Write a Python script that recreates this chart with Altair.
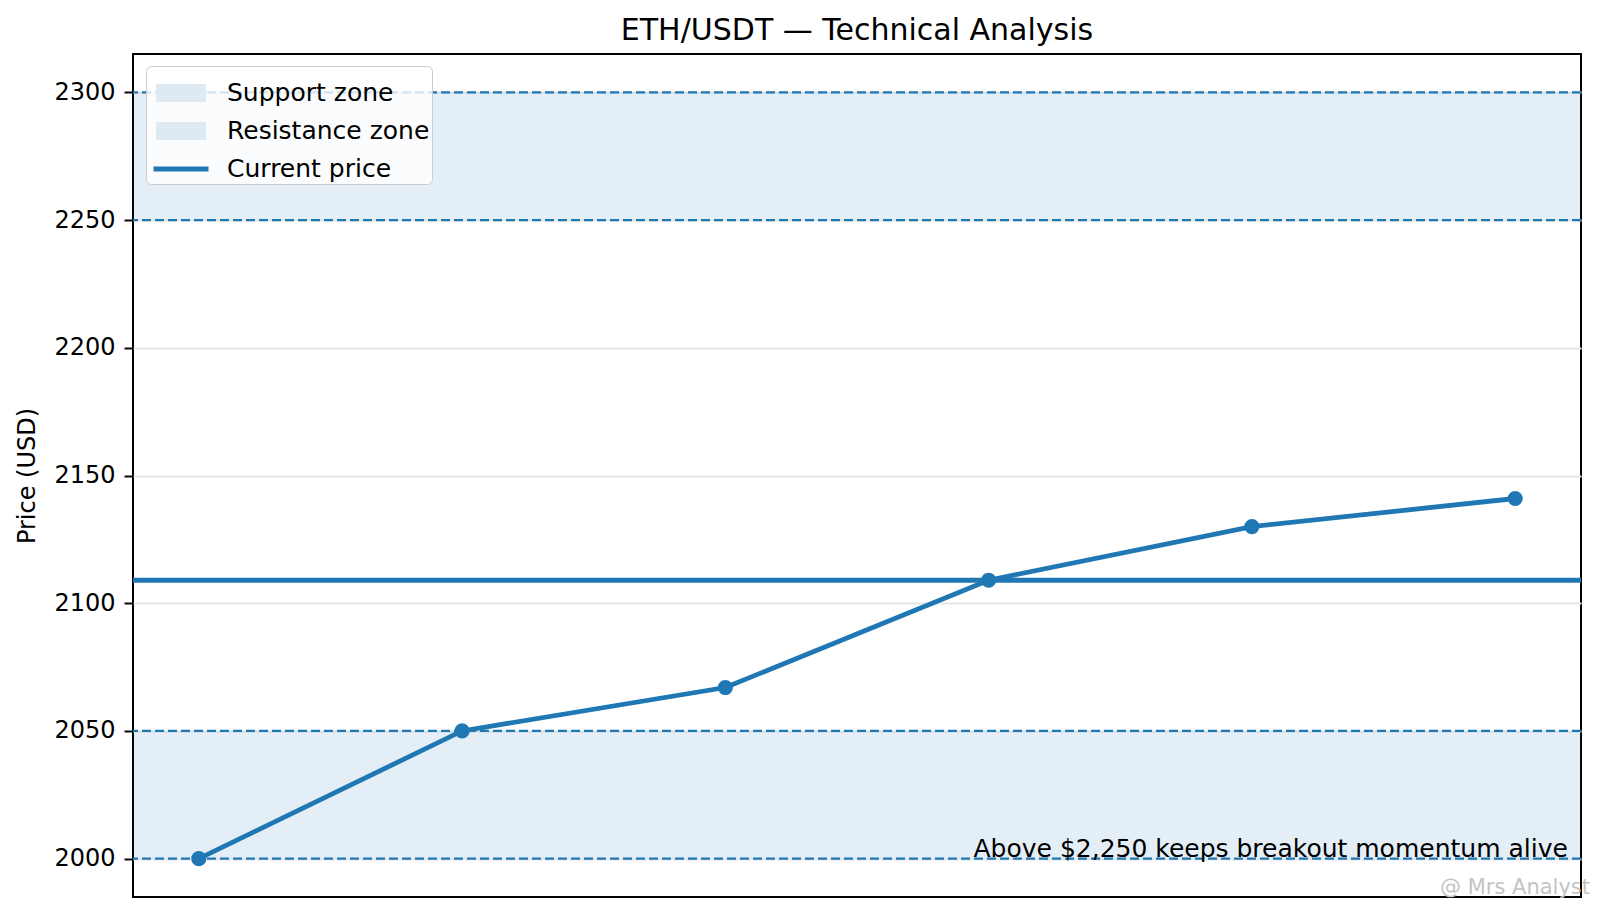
import altair as alt
import pandas as pd

# ---- data ----
x_idx = [0, 1, 2, 3, 4, 5]
prices = [2000, 2050, 2067, 2109, 2130, 2141]
current_price = [2109]
zone_names = ["Support zone", "Resistance zone"]
zone_low = [2000, 2250]
zone_high = [2050, 2300]
level_lines = [2000, 2050, 2250, 2300]
y_ticks = [2000, 2050, 2100, 2150, 2200, 2250, 2300]
legend_names = ["Support zone", "Resistance zone", "Current price"]
note_text = ["Above $2,250 keeps breakout momentum alive"]
watermark_text = ["@ Mrs Analyst"]
title_text = "ETH/USDT — Technical Analysis"
y_title = "Price (USD)"

BLUE = "#1f77b4"
SWATCH = "#dde9f3"
FONT = "DejaVu Sans"
W, H = 1448, 843

xs = alt.Scale(domain=[-0.25, 5.25], nice=False, zero=False)
ys = alt.Scale(domain=[1985, 2315], nice=False, zero=False)

price_df = pd.DataFrame({"i": x_idx, "price": prices})
zone_df = pd.DataFrame({"zone": zone_names, "lo": zone_low, "hi": zone_high})
lines_df = pd.DataFrame({"level": level_lines})
cur_df = pd.DataFrame({"price": current_price})
legend_df = pd.DataFrame({"name": legend_names})
note_df = pd.DataFrame({"t": note_text})
wm_df = pd.DataFrame({"t": watermark_text})

yaxis = alt.Axis(
    values=y_ticks, format="d", title=y_title, grid=True, gridColor="#e7e7e7", gridWidth=1.9,
    domain=False, ticks=True, tickColor="black", tickSize=9, tickWidth=1.9,
    labelPadding=9, labelFontSize=24, labelFont=FONT, labelColor="black",
    titleFontSize=24, titleFont=FONT, titleFontWeight="normal", titleColor="black",
    titlePadding=14,
)

zones = alt.Chart(zone_df).mark_rect(color=BLUE, opacity=0.12).encode(
    y=alt.Y("lo:Q", scale=ys, axis=yaxis),
    y2="hi:Q",
)

levels = alt.Chart(lines_df).mark_rule(color=BLUE, strokeWidth=2.2, strokeDash=[9, 4]).encode(
    y=alt.Y("level:Q", scale=ys)
)

cur = alt.Chart(cur_df).mark_rule(color=BLUE, strokeWidth=4.8).encode(
    y=alt.Y("price:Q", scale=ys)
)

line = alt.Chart(price_df).mark_line(color=BLUE, strokeWidth=4.8).encode(
    x=alt.X("i:Q", scale=xs, axis=None),
    y=alt.Y("price:Q", scale=ys),
)
pts = alt.Chart(price_df).mark_circle(color=BLUE, size=230, opacity=1).encode(
    x=alt.X("i:Q", scale=xs, axis=None),
    y=alt.Y("price:Q", scale=ys),
)

note = alt.Chart(note_df).mark_text(
    align="right", baseline="alphabetic", fontSize=25, font=FONT, color="black", dy=-2
).encode(x=alt.datum(5.2), y=alt.datum(2000), text="t:N")

rect_path = "M-1,-0.36L1,-0.36L1,0.36L-1,0.36Z"
line_path = "M-1.1,-0.1L1.1,-0.1L1.1,0.1L-1.1,0.1Z"
leg = alt.Legend(
    title=None, orient="none", legendX=13, legendY=12,
    labelFontSize=25, labelFont=FONT, labelColor="black", labelLimit=0,
    symbolSize=2500, symbolStrokeWidth=0, symbolOpacity=1, symbolOffset=8,
    labelOffset=21, rowPadding=0, padding=2,
    fillColor="rgba(255,255,255,0.8)", strokeColor="#cccccc", cornerRadius=5,
)
legend_layer = alt.Chart(legend_df).mark_point(filled=True, opacity=0).encode(
    x=alt.datum(0),
    y=alt.datum(2100),
    color=alt.Color("name:N", scale=alt.Scale(domain=legend_names, range=[SWATCH, SWATCH, BLUE]), legend=leg, sort=None),
    shape=alt.Shape("name:N", scale=alt.Scale(domain=legend_names, range=[rect_path, rect_path, line_path]), legend=leg, sort=None),
)

wm = alt.Chart(wm_df).mark_text(
    align="left", baseline="alphabetic", fontSize=21, font=FONT, color="#c4c4c4"
).encode(x=alt.value(1307), y=alt.value(840), text="t:N")

chart = alt.layer(zones, levels, line, pts, cur, note, legend_layer, wm).properties(
    width=W, height=H,
    background="white",
    title=alt.Title(title_text, fontSize=30, font=FONT, fontWeight="normal", color="black",
                    anchor="middle", offset=8),
    autosize=alt.AutoSizeParams(type="none"),
    padding={"left": 125, "top": 46, "right": 12, "bottom": 10},
).configure_view(stroke="black", strokeWidth=2)

chart.save("out.html", embed_options={"renderer": "svg", "actions": False})
